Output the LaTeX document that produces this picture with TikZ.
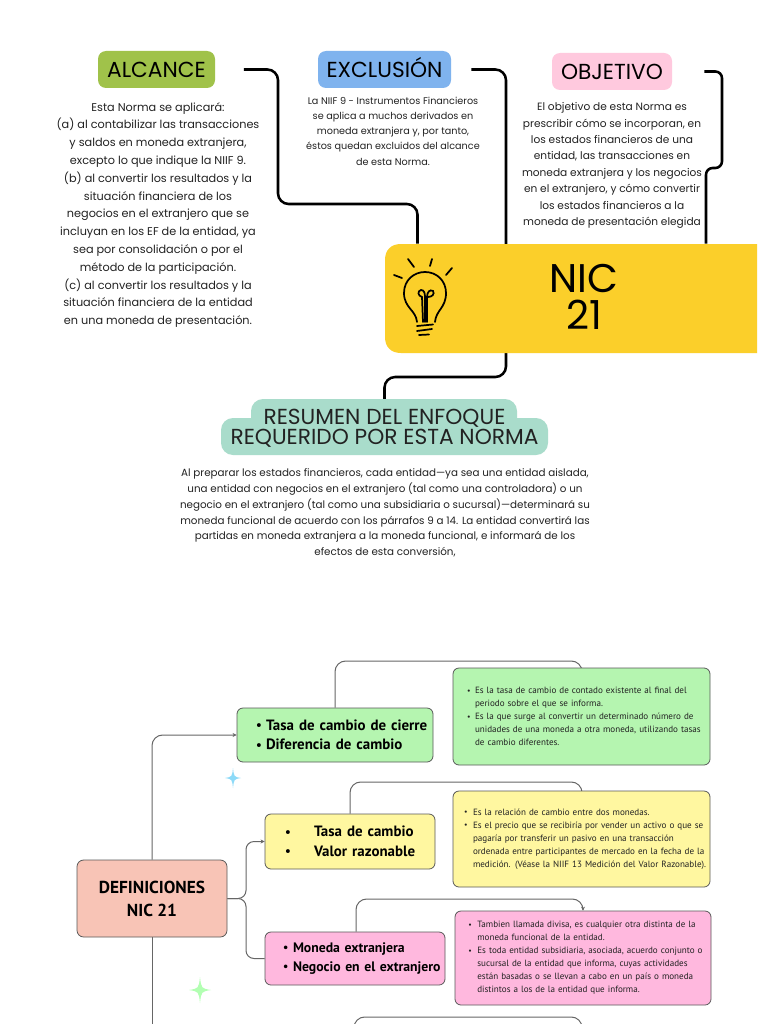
\documentclass[tikz,border=0pt]{standalone}
\usepackage{fontspec}
\usepackage{graphicx}
\usetikzlibrary{arrows.meta,backgrounds}
\setmainfont{Poppins}
\newfontfamily\lowf{PT Sans}
\definecolor{cAl}{HTML}{A0C24A}
\definecolor{cEx}{HTML}{7FB3EE}
\definecolor{cOb}{HTML}{FFC9DE}
\definecolor{cNic}{HTML}{FBCF2A}
\definecolor{cRes}{HTML}{A9DCCB}
\definecolor{cDef}{HTML}{F8C4B6}
\definecolor{cGr}{HTML}{B5F5B0}
\definecolor{cYe}{HTML}{FFF7A0}
\definecolor{cPk}{HTML}{FFB8DE}
\definecolor{cTx}{HTML}{222222}
\newcommand{\sparkle}[5]{\fill[#5] (#1,#2-#4) .. controls (#1+0.12*#3,#2-0.12*#4) .. (#1+#3,#2) .. controls (#1+0.12*#3,#2+0.12*#4) .. (#1,#2+#4) .. controls (#1-0.12*#3,#2+0.12*#4) .. (#1-#3,#2) .. controls (#1-0.12*#3,#2-0.12*#4) .. cycle;}
\newcommand{\bl}[2]{\leavevmode\hspace*{#1pt}\makebox[#2pt][l]{\raisebox{0.05em}{\scalebox{0.85}{\textbullet}}}}
\newcommand{\ct}[1]{\leavevmode\hspace*{#1pt}}
\tikzset{
  head/.style={rounded corners=6pt,inner sep=0pt,text=black,text height=11.4pt,text depth=0pt,font=\fontsize{16.3}{18}\selectfont},
  para/.style={align=center,text=cTx,inner sep=0pt},
  thick conn/.style={draw=black,line width=1.9pt,rounded corners=8pt},
  thin conn/.style={draw=black!60,line width=0.75pt,rounded corners=8pt},
  tip/.style={-{Stealth[length=3pt,width=3pt]}},
  lbl/.style={draw=black!65,line width=0.6pt,rounded corners=4.5pt,inner ysep=0pt,inner xsep=2pt,align=left,text=black,font=\lowf\bfseries\fontsize{11.2}{14.6}\selectfont},
  det/.style={draw=black!65,line width=0.6pt,rounded corners=4.5pt,inner ysep=0pt,inner xsep=2pt,align=left,text=cTx,font=\lowf\fontsize{6.8}{9.75}\selectfont},
}
\begin{document}
\begin{tikzpicture}[x=0.75pt,y=-0.75pt]
\useasboundingbox (0,0) rectangle (768,1024);
\clip (0,0) rectangle (768,1024);

% heading boxes
\node[head,fill=cAl,minimum width=87.75pt,minimum height=27.75pt] (alcance) at (156.5,69.5) {ALCANCE};
\node[head,fill=cEx,minimum width=99.75pt,minimum height=27.75pt] (exclusion) at (384.5,69.5) {EXCLUSIÓN};
\node[head,fill=cOb,minimum width=90pt,minimum height=27.75pt] (objetivo) at (612,71.5) {OBJETIVO};

% texts
\node[para,font=\fontsize{8.45}{13.35}\selectfont] (talc) at (158,215) {Esta Norma se aplicará:\\(a) al contabilizar las transacciones\\y saldos en moneda extranjera,\\excepto lo que indique la NIIF 9.\\(b) al convertir los resultados y la\\situación financiera de los\\negocios en el extranjero que se\\incluyan en los EF de la entidad, ya\\sea por consolidación o por el\\método de la participación.\\(c) al convertir los resultados y la\\situación financiera de la entidad\\en una moneda de presentación.};
\node[para,font=\fontsize{7.25}{11.4}\selectfont] (texc) at (393,131) {La NIIF 9 - Instrumentos Financieros\\se aplica a muchos derivados en\\moneda extranjera y, por tanto,\\éstos quedan excluidos del alcance\\de esta Norma.};
\node[para,font=\fontsize{7.95}{12.3}\selectfont] (tobj) at (612,165.5) {El objetivo de esta Norma es\\prescribir cómo se incorporan, en\\los estados financieros de una\\entidad, las transacciones en\\moneda extranjera y los negocios\\en el extranjero, y cómo convertir\\los estados financieros a la\\moneda de presentación elegida};

% NIC box
\fill[cNic] (757,244) -- (401,244) .. controls (391,244) and (385,250) .. (385,260) -- (385,337) .. controls (385,347) and (391,353) .. (401,353) -- (757,353) -- cycle;
\node[inner sep=0pt,minimum width=279pt,minimum height=81.75pt] (nicbox) at (571,298.5) {};
\node[align=center,inner sep=0pt,text=black,font=\fontsize{30}{27.5}\selectfont] (nic) at (584,297) {NIC\\21};

% bulb
\begin{scope}[line width=1.3pt,line cap=round,draw=black]
\draw (408,259) -- (414,267);
\draw (432,259) -- (430,266);
\draw (452,268) -- (446,275);
\draw (394,275) -- (402,278);
\draw (417,322) .. controls (416,310) and (404,308) .. (404,293) .. controls (404,280) and (414,272) .. (425,272) .. controls (437,272) and (446,281) .. (446,293) .. controls (446,308) and (436,310) .. (435,322);
\draw (417,326) -- (433,324.5);
\draw (417,331) -- (432,329);
\draw (419,335) -- (429,334.5);
\draw (423,322) -- (422,297) .. controls (418,296) and (417,291) .. (421,290) .. controls (424,290) and (425,293) .. (425,297) -- (425,322);
\draw (427,322) -- (427,297) .. controls (427,292) and (430,289) .. (433,291) .. controls (435,294) and (432,297) .. (428,297);
\end{scope}

% Resumen
\fill[cRes,rounded corners=9pt] (251,399) rectangle (517,440);
\node[fill=cRes,rounded corners=9pt,inner sep=0pt,minimum width=245.25pt,minimum height=27.75pt] (resbox) at (384.5,436.5) {};
\node[align=center,inner sep=0pt,text=cTx,font=\fontsize{16.3}{14.7}\selectfont] (res) at (384.5,428) {RESUMEN DEL ENFOQUE\\REQUERIDO POR ESTA NORMA};
\node[para,font=\fontsize{7.75}{11.85}\selectfont] (tres) at (385,513) {Al preparar los estados financieros, cada entidad—ya sea una entidad aislada,\\una entidad con negocios en el extranjero (tal como una controladora) o un\\negocio en el extranjero (tal como una subsidiaria o sucursal)—determinará su\\moneda funcional de acuerdo con los párrafos 9 a 14. La entidad convertirá las\\partidas en moneda extranjera a la moneda funcional, e informará de los\\efectos de esta conversión,};

% lower map
\node[draw=black!65,line width=0.6pt,fill=cDef,rounded corners=5pt,inner sep=0pt,minimum width=112.5pt,minimum height=57.75pt,align=center,text=black,font=\lowf\bfseries\fontsize{13}{17.2}\selectfont] (def) at (152,898.5) {DEFINICIONES\\NIC 21};
\node[lbl,fill=cGr,text width=143pt,minimum height=40.5pt] (lg) at (335,735) {\bl{12.25}{7.5}Tasa de cambio de cierre\\\bl{12.25}{7.5}Diferencia de cambio};
\node[lbl,fill=cYe,text width=123.5pt,minimum height=41.25pt] (ly) at (350,841.5) {\bl{13}{21.75}Tasa de cambio\\\bl{13}{21.75}Valor razonable};
\node[lbl,fill=cPk,text width=131pt,minimum height=39.75pt,font=\lowf\bfseries\fontsize{10.3}{14.2}\selectfont] (lp) at (355,958.5) {\bl{11.5}{7.5}Moneda extranjera\\\bl{11.5}{7.5}Negocio en el extranjero};
\node[det,fill=cGr,text width=188.75pt,minimum height=72.75pt] (dg) at (581.5,716.5) {\bl{8.5}{6}Es la tasa de cambio de contado existente al final del\\\ct{14.5}periodo sobre el que se informa.\\\bl{8.5}{6}Es la que surge al convertir un determinado número de\\\ct{14.5}unidades de una moneda a otra moneda, utilizando tasas\\\ct{14.5}de cambio diferentes.};
\node[det,fill=cYe,text width=188.75pt,minimum height=72pt] (dy) at (581.5,839) {\bl{6.25}{6.75}Es la relación de cambio entre dos monedas.\\\bl{6.25}{6.75}Es el precio que se recibiría por vender un activo o que se\\\ct{13}pagaría por transferir un pasivo en una transacción\\\ct{13}ordenada entre participantes de mercado en la fecha de la\\\ct{13}medición. (Véase la NIIF 13 Medición del Valor Razonable).};
\node[det,fill=cPk,text width=188pt,minimum height=70.5pt] (dp) at (583,958) {\bl{8}{6.75}Tambien llamada divisa, es cualquier otra distinta de la\\\ct{14.75}moneda funcional de la entidad.\\\bl{8}{6.75}Es toda entidad subsidiaria, asociada, acuerdo conjunto o\\\ct{14.75}sucursal de la entidad que informa, cuyas actividades\\\ct{14.75}están basadas o se llevan a cabo en un país o moneda\\\ct{14.75}distintos a los de la entidad que informa.};

% sparkles
\sparkle{233}{778}{8}{10}{cyan!45}
\sparkle{200}{990}{11}{13}{green!30}

% connectors
\begin{scope}[on background layer]
\fill[white] (0,0) rectangle (768,1024);
\draw[thick conn] ([xshift=21.5pt]alcance.east) -- (278,69.5) -- (278,204) -- (417.5,204) -- (417.5,244 |- nicbox.north);
\draw[thick conn] ([xshift=15pt]exclusion.east) -- (506,69.5) -- (506,377) -- (384.5,377) -- (384.5,377 |- resbox.north);
\draw[thick conn,rounded corners=5pt] ([xshift=24pt]objetivo.east) -- (722,71.5) -- (722,168) -- (706,168) -- (706,244 |- nicbox.north);
\draw[thin conn,tip] (def.north) -- (152,735) -- (lg.west);
\draw[thin conn] (def.south) -- (152,1030);
\draw[thin conn,tip,rounded corners=6pt] (def.east) -- (246,898.5) -- (246,841.5) -- (ly.west);
\draw[thin conn,rounded corners=6pt] (def.east) -- (246,898.5) -- (246,958.5) -- (lp.west);
\draw[thin conn,tip] (lg.north) -- (335,661) -- (582,661) -- (582,661 |- dg.north);
\draw[thin conn,tip] (ly.north) -- (350,782) -- (582,782) -- (582,782 |- dy.north);
\draw[thin conn,tip] (356,932 |- lp.north) -- (356,899) -- (583,899) -- (583,899 |- dp.north);
\coordinate (fa) at (354,1034);
\coordinate (fb) at (582,1034);
\draw[thin conn] (fa) -- (354,1017) -- (582,1017) -- (fb);
\end{scope}
\end{tikzpicture}
\end{document}
